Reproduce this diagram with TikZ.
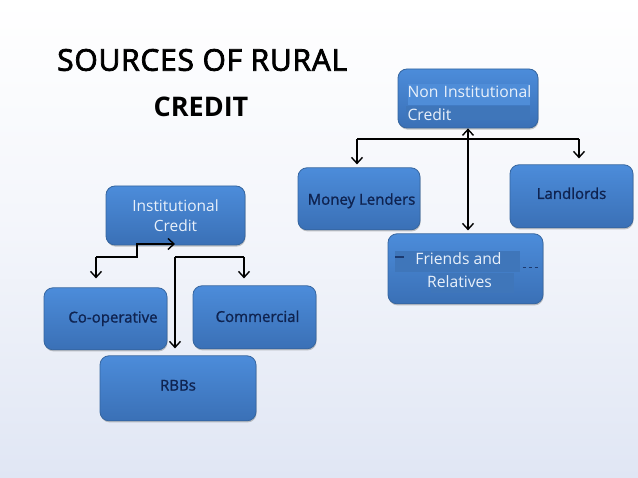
\documentclass[tikz,border=0pt]{standalone}
\usepackage{fontspec}
\setmainfont{Open Sans}
\newfontfamily\titlefont[FakeBold=2.5,LetterSpace=2.5]{Open Sans}
\newfontfamily\darkfont[FakeBold=1.2]{Open Sans}
\usetikzlibrary{arrows.meta,positioning,shadows}

\definecolor{boxtop}{HTML}{4C8CDA}
\definecolor{boxlow}{HTML}{3A70B6}
\definecolor{boxedge}{HTML}{35659F}
\definecolor{bandlow}{HTML}{3F76BA}
\definecolor{bandtop}{HTML}{4F8DD8}
\definecolor{darktext}{HTML}{0F2350}
\definecolor{paletext}{HTML}{E8F0FA}
\definecolor{pageblue}{HTML}{E0E6F4}

\newcommand{\nudge}[2]{\raisebox{#1}[\height][\depth]{#2}}

\tikzset{
	block/.style={draw=boxedge,line width=0.8pt,rounded corners=9pt,top color=boxtop,bottom color=boxlow,
		drop shadow={shadow xshift=0.6pt,shadow yshift=-1.6pt,opacity=0.45},inner sep=0pt,align=center},
	darkblock/.style={block,text=darktext,font=\darkfont\fontsize{15}{23}\selectfont},
	paleblock/.style={block,text=paletext,font=\fontsize{15.7}{23}\selectfont},
	band/.style={sharp corners},
	link/.style={draw=black,line width=1.8pt},
}

\begin{document}
\begin{tikzpicture}[x=1pt,y=-1pt,>={Straight Barb[length=6pt,width=11pt,line width=1.4pt]}]
	\shade[top color=white,bottom color=pageblue,middle color=white!60!pageblue] (0,0) rectangle (638,478);
	\useasboundingbox (0,0) rectangle (638,478);

	% title
	\node[font=\titlefont\fontsize{30}{36}\selectfont,anchor=west,inner sep=0pt] (title) at (57,60) {SOURCES OF RURAL};
	\node[font=\fontsize{27}{30}\selectfont\bfseries,inner sep=0pt] (subtitle) at (201,107) {CREDIT};

	% left tree
	\node[paleblock,font=\fontsize{15.5}{20}\selectfont,minimum width=139pt,minimum height=59pt] (inst) at (175.5,215.5) {Institutional\\Credit};
	\node[darkblock,minimum width=123pt,minimum height=62pt] (coop) [below=42pt of inst,xshift=-70pt] {\hspace*{15pt}Co-operative};
	\node[darkblock,minimum width=123pt,minimum height=63pt] (comm) [below=40pt of inst,xshift=79pt] {\nudge{1pt}{\hspace*{6pt}Commercial}};
	\node[darkblock,minimum width=156pt,minimum height=65pt] (rbb) [below=110pt of inst,xshift=2.5pt] {\nudge{3pt}{RBBs}};

	% right tree
	\node[paleblock,minimum width=140pt,minimum height=59pt,text width=125pt,align=left,
		path picture={
			\fill[band,bandtop] ([shift={(-60,-14)}]path picture bounding box.center) rectangle ([shift={(62,7)}]path picture bounding box.center);
			\fill[band,bandlow] ([shift={(-62,8)}]path picture bounding box.center) rectangle ([shift={(62,22)}]path picture bounding box.center);
		}] (noninst) at (468,98.5) {\nudge{-4.5pt}{\hspace*{2pt}Non Institutional}\\\nudge{-4.5pt}{\hspace*{2pt}Credit}};
	\node[darkblock,minimum width=122pt,minimum height=62pt] (money) [below=39pt of noninst,xshift=-109pt] {\nudge{-2pt}{\hspace*{5pt}Money Lenders}};
	\node[darkblock,minimum width=123pt,minimum height=63pt] (land) [below=36pt of noninst,xshift=103.5pt] {\nudge{3pt}{Landlords}};
	\node[paleblock,minimum width=155pt,minimum height=70pt,
		path picture={
			\fill[band,bandlow] ([shift={(-70.5,-18)}]path picture bounding box.center) rectangle ([shift={(54.5,3)}]path picture bounding box.center);
			\fill[band,bandlow] ([shift={(-35,4)}]path picture bounding box.center) rectangle ([shift={(48,24)}]path picture bounding box.center);
			\fill[band,darktext!70!boxlow] ([shift={(-70.5,-12.5)}]path picture bounding box.center) rectangle ([shift={(-62,-11)}]path picture bounding box.center);
			\draw[band,darktext!70!boxlow,line width=1.3pt,dash pattern=on 3pt off 3pt] ([shift={(57,-1)}]path picture bounding box.center) -- ([shift={(75,-1)}]path picture bounding box.center);
		}] (friends) [below=105pt of noninst,xshift=-2.5pt] {\nudge{-1pt}{\hspace*{-14pt}Friends and}\\\nudge{-1pt}{\hspace*{-12pt}Relatives}};

	\coordinate (railL) at (357,139);
	\coordinate (railR) at (579,139);
	\coordinate (forkL) at (96,257);
	\coordinate (forkM) at (175,257);
	\coordinate (forkR) at (244,257);
	\coordinate (stepA) at (137,257);
	\coordinate (stepB) at (137,244);
	\coordinate (stepC) at (175,244);

	\draw[link] (railL) -- (railR);
	\draw[link,<->,shorten >=3pt] (noninst.south) -- (noninst.south |- friends.north);
	\draw[link,->,shorten >=3pt] (railL) -- (railL |- money.north);
	\draw[link,->,shorten >=6pt] (railR) -- (railR |- land.north);

	\draw[link,->] (forkL) -- (stepA) -- (stepB) -- (stepC);
	\draw[link,->,shorten >=9pt] (forkL) -- (forkL |- coop.north);
	\draw[link] (forkM) -- (forkR);
	\draw[link,->,shorten >=7pt] (forkR) -- (forkR |- comm.north);
	\draw[link,->,shorten >=7pt] (forkM) -- (forkM |- rbb.north);
\end{tikzpicture}
\end{document}
